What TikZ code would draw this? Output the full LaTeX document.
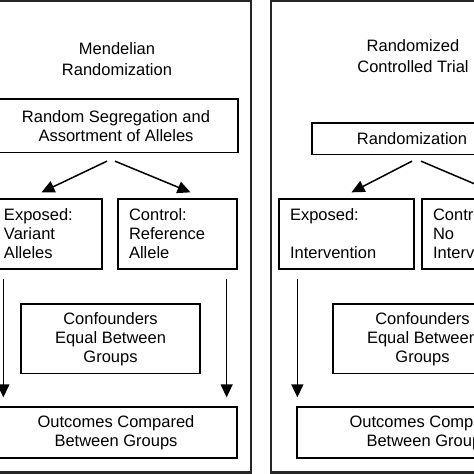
\documentclass[tikz,border=0pt]{standalone}
\usepackage{fontspec}
\setmainfont{Liberation Sans}
\usetikzlibrary{arrows.meta,calc}
\tikzstyle{box}  =[draw, line width=1.3pt, inner sep=0pt, align=center,
                   font=\fontsize{16.5}{19}\selectfont]
\tikzstyle{group}=[box, align=left, inner xsep=11pt, minimum height=70pt]
\tikzstyle{title}=[align=center, font=\fontsize{16.5}{21}\selectfont]
\tikzstyle{frame}=[draw=black!85, line width=2.2pt]
\tikzstyle{arr}  =[-{Triangle[width=12pt,length=13pt]}, line width=1.5pt]

\begin{document}
\begin{tikzpicture}[x=1pt, y=-1pt]
    \useasboundingbox (0,0) rectangle (474,474);
    \clip (0,0) rectangle (474,474);

    % panels
    \draw[frame] (-17,0.5) rectangle (250.7,472.5);
    \draw[frame] (270.7,0.5) rectangle (560,472.5);

    \node[title] (titleL) at (117,59) {Mendelian\\Randomization};
    \node[title] (titleR) at (413,56) {Randomized\\Controlled Trial};

    \node[box, minimum width=244pt, minimum height=53.5pt] (seg) at (116,125.75)
        {Random Segregation and\\Assortment of Alleles};
    \node[box, minimum width=200pt, minimum height=31.5pt] (rnd) at (412,138.75)
        {Randomization};

    \node[group, text width=87pt]  (expL) at (47.5,234)  {Exposed:\\Variant\\Alleles};
    \node[group, text width=97pt]  (conL) at (177.5,234) {Control:\\Reference\\Allele};
    \node[group, text width=113pt] (expR) at (346.5,234) {Exposed:\\\mbox{}\\Intervention};
    \node[group, text width=113pt] (conR) at (489.5,234) {Control:\\No\\Intervention};

    \node[box, minimum width=179pt, minimum height=69.5pt] (confL) at (110.5,338.75)
        {Confounders\\Equal Between\\Groups};
    \node[box, minimum width=179pt, minimum height=69.5pt] (confR) at (422.5,338.75)
        {Confounders\\Equal Between\\Groups};

    \node[box, minimum width=242pt, minimum height=51pt] (outL) at (116,432.5)
        {Outcomes Compared\\Between Groups};
    \node[box, minimum width=262pt, minimum height=51pt] (outR) at (428,432.5)
        {Outcomes Compared\\Between Groups};

    % randomisation into groups
    \draw[arr] ([xshift=-9pt,yshift=-8pt]seg.south) -- ([xshift=-6pt,yshift=6pt]expL.north);
    \draw[arr] ([xshift=-1pt,yshift=-8pt]seg.south) -- ([xshift=13pt,yshift=6pt]conL.north);
    \draw[arr] ([yshift=-6pt]rnd.south) -- ([xshift=5pt,yshift=6pt]expR.north);
    \draw[arr] ([xshift=9pt,yshift=-6pt]rnd.south) -- ([xshift=5pt,yshift=6pt]conR.north);

    % groups to outcomes
    \draw[arr] ($(expL.south west)+(11,9)$) -- ($(expL.south west |- outL.north)+(11,-9)$);
    \draw[arr] ($(conL.south east)+(-11,9)$) -- ($(conL.south east |- outL.north)+(-11,-9)$);
    \draw[arr] ($(expR.south west)+(19,9)$) -- ($(expR.south west |- outR.north)+(19,-9)$);
\end{tikzpicture}
\end{document}
